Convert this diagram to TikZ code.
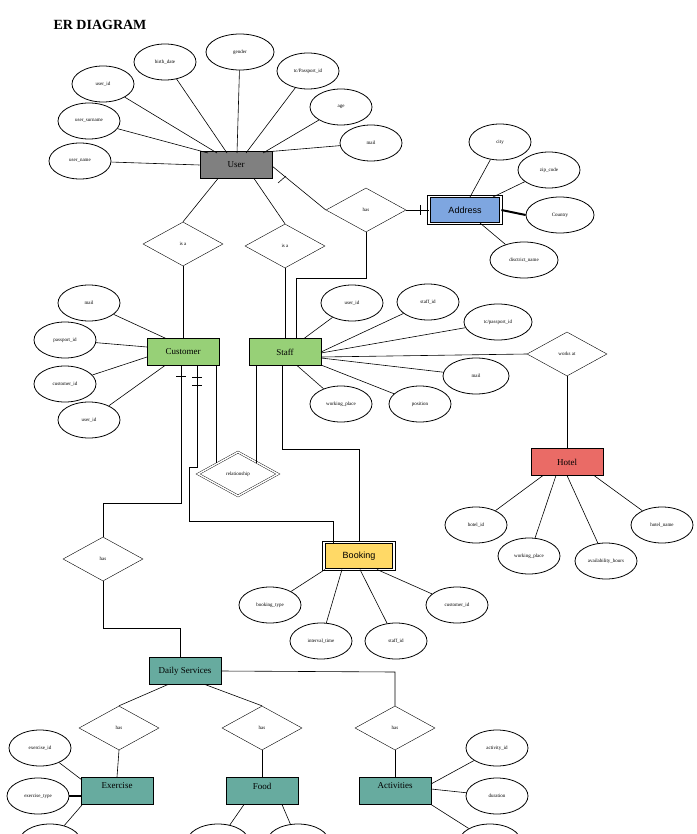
\documentclass[tikz,border=0pt]{standalone}
\usepackage{fontspec}
\setmainfont{Liberation Serif}
\newfontfamily\sansf{Liberation Sans}
\usetikzlibrary{shapes.geometric}
\begin{document}
\begin{tikzpicture}[x=1pt,y=-1pt,
  attr/.style={ellipse,draw,thick,minimum width=62pt,minimum height=36pt,inner sep=0pt,font=\fontsize{5}{6}\selectfont},
  ent/.style={draw,thick,minimum width=72pt,minimum height=27pt,inner sep=0pt,font=\fontsize{9}{10}\selectfont},
  rel/.style={diamond,draw,aspect=1.8,minimum width=80pt,minimum height=44pt,inner sep=0pt,font=\fontsize{5}{6}\selectfont},
  ln/.style={draw,semithick}]
\useasboundingbox (0,0) rectangle (696,834);
\clip (0,0) rectangle (696,834);
\node[font=\bfseries\fontsize{14}{16}\selectfont] (title) at (100,25) {ER DIAGRAM};
% User
\node[ent,fill={rgb,255:red,128;green,128;blue,128}] (user) at (236,165) {User};
\node[attr] (u1) at (103,84) {user\_id};
\node[attr] (u2) at (165,62) {birth\_date};
\node[attr,minimum width=68pt] (u3) at (240,52) {gender};
\node[attr] (u4) at (308,71) {tc/Passport\_id};
\node[attr] (u5) at (341,107) {age};
\node[attr] (u6) at (371,143) {mail};
\node[attr] (u7) at (89,121) {user\_surname};
\node[attr] (u8) at (80,161) {user\_name};
\draw[ln] (u1) -- (217,153); \draw[ln] (u2) -- (227,153); \draw[ln] (u3) -- (237,153);
\draw[ln] (u4) -- (246,153); \draw[ln] (u5) -- (263,153); \draw[ln] (u6) -- (265,152);
\draw[ln] (u7) -- (208,153); \draw[ln] (u8) -- (user.west);
% isa
\node[rel] (isa1) at (183,244) {is a};
\node[rel] (isa2) at (285,246) {is a};
\draw[ln] (218,178.5) -- (isa1.north); \draw[ln] (254,178.5) -- (isa2.north);
% Address
\node[rel] (has0) at (366,210) {has};
\node[ent,fill={rgb,255:red,126;green,166;blue,224},font=\sansf\fontsize{9}{10}\selectfont,double,double distance=1.5pt] (addr) at (465,210) {Address};
\draw[ln] (272,166) -- (has0.west);
\draw[ln] (278,183) -- (286,176);
\draw[ln] (has0.east) -- (addr.west);
\draw[ln] (420,205) -- (420,215);
\node[attr] (a1) at (500,142) {city};
\node[attr] (a2) at (549,170) {zip\_code};
\node[attr,minimum width=68pt] (a3) at (560,215) {Country};
\node[attr,minimum width=68pt] (a4) at (524,260) {disctrict\_name};
\draw[ln] (a1) -- (470,197); \draw[ln] (a2) -- (493,197);
\draw[line width=2pt] (addr.east) -- (a3.west);
\draw[ln] (a4) -- (480,223);
% Customer / Staff
\node[ent,fill={rgb,255:red,151;green,208;blue,119}] (cust) at (183,352) {Customer};
\node[ent,fill={rgb,255:red,151;green,208;blue,119}] (staff) at (285,352) {Staff};
\draw[ln] (isa1.south) -- (cust.north);
\draw[ln] (isa2.south) -- (staff.north);
\draw[ln] (has0.south) -- (366,278) -- (296,278) -- (296,338.5);
\node[attr] (c1) at (89,303) {mail};
\node[attr] (c2) at (65,340) {passport\_id};
\node[attr] (c3) at (65,384) {customer\_id};
\node[attr] (c4) at (89,420) {user\_id};
\draw[ln] (c1) -- (166,338.5); \draw[ln] (c2) -- (147,347);
\draw[ln] (c3) -- (147,357); \draw[ln] (c4) -- (165,365.5);
\node[attr] (s1) at (352,303) {user\_id};
\node[attr] (s2) at (428,302) {staff\_id};
\node[attr,minimum width=68pt] (s3) at (498,322) {tc/passport\_id};
\node[attr,minimum width=66pt] (s4) at (476,376) {mail};
\node[attr] (s5) at (341,404) {working\_place};
\node[attr] (s6) at (420,404) {position};
\draw[ln] (s1) -- (304,338.5); \draw[ln] (s2) -- (321,352);
\draw[ln] (s3) -- (321,353); \draw[ln] (s4) -- (321,358);
\draw[ln] (s5) -- (297,365.5); \draw[ln] (s6) -- (321,365);
% Hotel
\node[rel] (works) at (567,354) {works at};
\node[ent,fill={rgb,255:red,234;green,107;blue,102}] (hotel) at (567,462) {Hotel};
\draw[ln] (321,357) -- (works.west);
\draw[ln] (works.south) -- (hotel.north);
\node[attr] (h1) at (476,525) {hotel\_id};
\node[attr] (h2) at (529,556) {working\_place};
\node[attr] (h3) at (606,561) {availability\_hours};
\node[attr] (h4) at (662,525) {hotel\_name};
\draw[ln] (h1) -- (543,475.5); \draw[ln] (h2) -- (556,475.5);
\draw[ln] (h3) -- (567,475.5); \draw[ln] (h4) -- (594,475.5);
% relationship
\node[rel,double,double distance=1.5pt] (relship) at (238,474) {relationship};
\draw[ln] (216,365.5) -- (216,463);
\draw[ln] (256,365.5) -- (256,463);
% Customer -> has -> Daily
\node[rel] (has1) at (103,559) {has};
\draw[ln] (181,365.5) -- (181,503) -- (103,503) -- (has1.north);
\draw[ln] (176,376) -- (186,376);
\node[ent,fill={rgb,255:red,103;green,171;blue,159}] (daily) at (185,671) {Daily Services};
\draw[ln] (has1.south) -- (103,628) -- (180,628) -- (180,657.5);
% Booking
\node[ent,minimum width=70pt,fill={rgb,255:red,255;green,217;blue,102},font=\sansf\fontsize{9}{10}\selectfont,double,double distance=1.5pt] (book) at (359,556) {Booking};
\draw[ln] (197,365.5) -- (197,467) -- (189,467) -- (189,521) -- (333,521) -- (333,542.5);
\draw[ln] (192,377) -- (202,377); \draw[ln] (192,385) -- (202,385);
\draw[ln] (282,365.5) -- (282,449) -- (359,449) -- (book.north);
\node[attr] (b1) at (270,605) {booking\_type};
\node[attr] (b2) at (321,641) {interval\_time};
\node[attr] (b3) at (396,641) {staff\_id};
\node[attr] (b4) at (457,605) {customer\_id};
\draw[ln] (b1) -- (325,569.5); \draw[ln] (b2) -- (342,569.5);
\draw[ln] (b3) -- (360,569.5); \draw[ln] (b4) -- (377,569.5);
% Daily children
\node[rel] (hd1) at (119,728) {has};
\node[rel] (hd2) at (262,728) {has};
\node[rel] (hd3) at (395,728) {has};
\draw[ln] (168,684.5) -- (hd1.north);
\draw[ln] (205,684.5) -- (hd2.north);
\draw[ln] (daily.east) -- (395,672) -- (hd3.north);
\node[ent,fill={rgb,255:red,103;green,171;blue,159}] (ex) at (117,791) {};
\node[ent,fill={rgb,255:red,103;green,171;blue,159}] (food) at (262,791) {};
\node[ent,fill={rgb,255:red,103;green,171;blue,159}] (act) at (395,791) {};
\node[font=\fontsize{9}{10}\selectfont] (exl) at (117,786) {Exercise};
\node[font=\fontsize{9}{10}\selectfont] (foodl) at (262,786) {Food};
\node[font=\fontsize{9}{10}\selectfont] (actl) at (395,786) {Activities};
\draw[ln] (hd1.south) -- (ex.north);
\draw[ln] (hd2.south) -- (food.north);
\draw[ln] (hd3.south) -- (act.north);
\node[attr] (e1) at (40,748) {exercise\_id};
\node[attr] (e2) at (38,796) {exercise\_type};
\node[attr] (e3) at (50,842) {};
\draw[ln] (e1) -- (82,780); \draw[line width=2pt] (e2.east) -- (82,796);
\draw[ln] (e3) -- (82,805);
\node[attr] (f1) at (218,842) {};
\node[attr] (f2) at (298,842) {};
\draw[ln] (f1) -- (244,804.5); \draw[ln] (f2) -- (282,804.5);
\node[attr] (ac1) at (497,748) {activity\_id};
\node[attr] (ac2) at (497,796) {duration};
\node[attr] (ac3) at (490,842) {};
\draw[ln] (ac1) -- (431,784); \draw[ln] (ac2) -- (431,789);
\draw[ln] (ac3) -- (431,804.5);
\end{tikzpicture}
\end{document}
